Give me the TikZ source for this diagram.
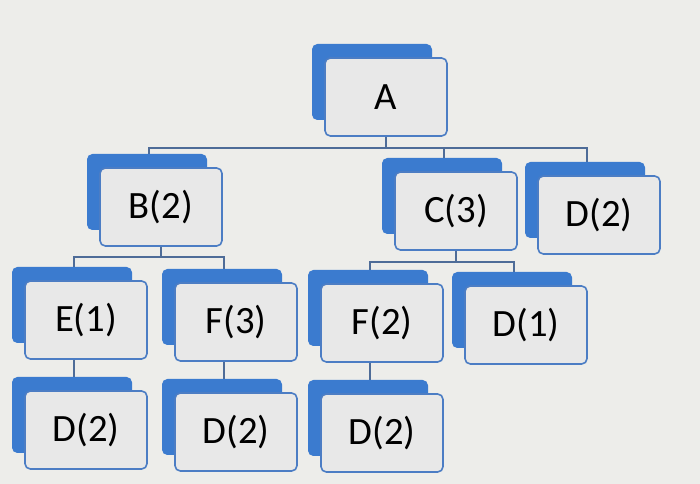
\documentclass[tikz,border=0pt]{standalone}
\usepackage{fontspec}
\setmainfont{Carlito}
\pgfdeclarelayer{background}
\pgfdeclarelayer{bg0}
\pgfsetlayers{bg0,background,main}
\definecolor{backc}{HTML}{3B7BCF}
\definecolor{edgec}{HTML}{4C7DC4}
\definecolor{linec}{HTML}{4E6C98}
\definecolor{fillc}{HTML}{E8E8E8}
\definecolor{paper}{HTML}{EDEDEA}
\tikzset{
 front/.style={draw=edgec, line width=1.2pt, fill=fillc, rounded corners=4pt,
   minimum width=91.5pt, minimum height=58.5pt, inner sep=0pt,
   font=\fontsize{29}{32}\selectfont},
 conn/.style={draw=linec, line width=1.1pt}
}
\newcommand\tnode[4]{%
 \fill[backc, rounded corners=4pt] (#2-74,#3-53) rectangle (#2+46,#3+23);
 \node[front] (#1) at (#2,#3) {#4};}
\begin{document}
\begin{tikzpicture}[x=0.75pt,y=-0.75pt]
\begin{pgfonlayer}{bg0}
\fill[paper] (0,0) rectangle (700,484);
\end{pgfonlayer}
\useasboundingbox (0,0) rectangle (700,484);
\tnode{A}{386}{97}{A}
\tnode{B}{161}{207}{B(2)}
\tnode{C}{456}{211}{C(3)}
\tnode{Dt}{599}{215}{D(2)}
\tnode{E}{86}{320}{E(1)}
\tnode{Fa}{236}{322}{F(3)}
\tnode{Fb}{382}{323}{F(2)}
\tnode{Da}{526}{325}{D(1)}
\tnode{Db}{86}{430}{D(2)}
\tnode{Dc}{236}{432}{D(2)}
\tnode{Dd}{382}{433}{D(2)}
\begin{pgfonlayer}{background}
\draw[conn] (A.south) -- ++(0,11) -| ([xshift=-9pt]B.north);
\draw[conn] (A.south) -- ++(0,11) -| ([xshift=-9pt]C.north);
\draw[conn] (A.south) -- ++(0,11) -| ([xshift=-9pt]Dt.north);
\draw[conn] (B.south) -- ++(0,10) -| ([xshift=-9pt]E.north);
\draw[conn] (B.south) -- ++(0,10) -| ([xshift=-9pt]Fa.north);
\draw[conn] (C.south) -- ++(0,11) -| ([xshift=-9pt]Fb.north);
\draw[conn] (C.south) -- ++(0,11) -| ([xshift=-9pt]Da.north);
\draw[conn] ([xshift=-9pt]E.south) -- ([xshift=-9pt]Db.north);
\draw[conn] ([xshift=-9pt]Fa.south) -- ([xshift=-9pt]Dc.north);
\draw[conn] ([xshift=-9pt]Fb.south) -- ([xshift=-9pt]Dd.north);
\end{pgfonlayer}
\end{tikzpicture}
\end{document}
